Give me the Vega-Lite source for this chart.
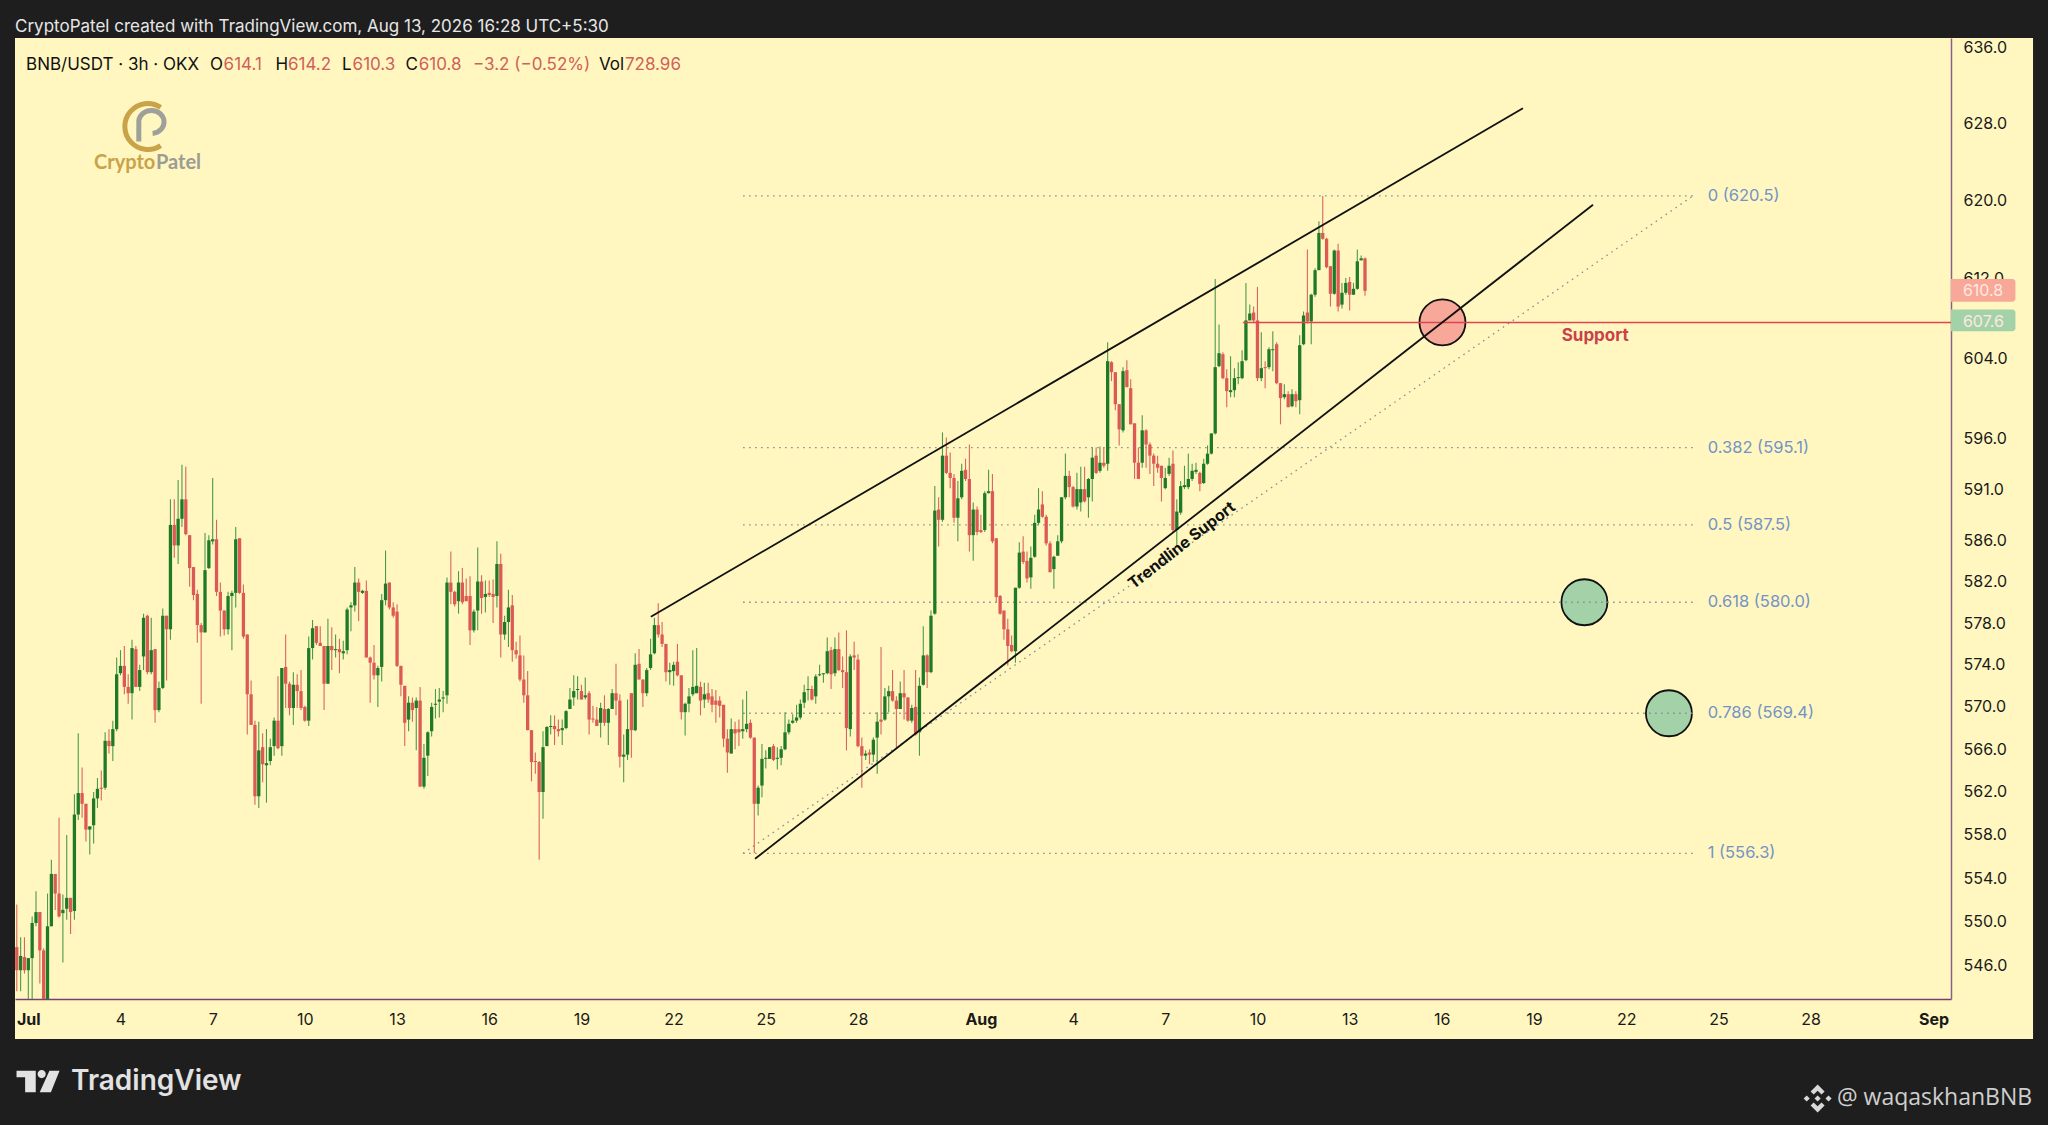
{"$schema":"https://vega.github.io/schema/vega-lite/v6.json","width":1936,"height":961,"autosize":{"type":"none"},"padding":{"left":15,"top":38,"right":97,"bottom":126},"background":"#fff7bf","config":{"view":{"stroke":null}},
"datasets":{"candles":[
{"t":"2026-06-30T12:00Z","o":550,"h":550,"l":543,"c":545.1},{"t":"2026-06-30T15:00Z","o":547.7,"h":551.6,"l":543.7,"c":545.6},{"t":"2026-06-30T18:00Z","o":545.6,"h":548.6,"l":543.7,"c":546.9},{"t":"2026-06-30T21:00Z","o":546.8,"h":548.6,"l":545.3,"c":545.6},
{"t":"2026-07-01T00:00Z","o":545.6,"h":546.7,"l":543,"c":546.7},{"t":"2026-07-01T03:00Z","o":546.7,"h":550.5,"l":543,"c":549.9},{"t":"2026-07-01T06:00Z","o":549.9,"h":552.8,"l":549.6,"c":550.9},{"t":"2026-07-01T09:00Z","o":550.9,"h":550.9,"l":544.4,"c":547.4},{"t":"2026-07-01T12:00Z","o":547.4,"h":547.6,"l":541.6,"c":542.7},{"t":"2026-07-01T15:00Z","o":542.7,"h":552.6,"l":542,"c":549.6},{"t":"2026-07-01T18:00Z","o":549.6,"h":555.7,"l":549.6,"c":554.4},{"t":"2026-07-01T21:00Z","o":554.4,"h":554.4,"l":551.1,"c":552.6},
{"t":"2026-07-02T00:00Z","o":552.6,"h":559.6,"l":550.4,"c":550.5},{"t":"2026-07-02T03:00Z","o":550.8,"h":552.5,"l":546.3,"c":551.1},{"t":"2026-07-02T06:00Z","o":551.2,"h":558,"l":550.2,"c":552.2},{"t":"2026-07-02T09:00Z","o":552.2,"h":552.2,"l":548.9,"c":550.9},{"t":"2026-07-02T12:00Z","o":551,"h":561.8,"l":550.2,"c":559.9},{"t":"2026-07-02T15:00Z","o":559.9,"h":567.5,"l":559.4,"c":561.9},{"t":"2026-07-02T18:00Z","o":561.9,"h":564.3,"l":559.6,"c":560.9},{"t":"2026-07-02T21:00Z","o":560.9,"h":560.9,"l":557.4,"c":558.5},
{"t":"2026-07-03T00:00Z","o":558.5,"h":558.8,"l":556.2,"c":558.8},{"t":"2026-07-03T03:00Z","o":558.9,"h":562,"l":557.2,"c":561.4},{"t":"2026-07-03T06:00Z","o":561.4,"h":563.3,"l":560.5,"c":562.3},{"t":"2026-07-03T09:00Z","o":562.4,"h":564,"l":561.2,"c":562.3},{"t":"2026-07-03T12:00Z","o":562.4,"h":567.6,"l":562.2,"c":566.8},{"t":"2026-07-03T15:00Z","o":566.8,"h":567.9,"l":565.6,"c":566.3},{"t":"2026-07-03T18:00Z","o":566.3,"h":568.7,"l":564.9,"c":567.9},{"t":"2026-07-03T21:00Z","o":567.9,"h":574.7,"l":567.7,"c":573.1},
{"t":"2026-07-04T00:00Z","o":573.2,"h":575.4,"l":573,"c":573.9},{"t":"2026-07-04T03:00Z","o":573.9,"h":575.8,"l":571.2,"c":571.9},{"t":"2026-07-04T06:00Z","o":571.9,"h":573.1,"l":570.3,"c":571.3},{"t":"2026-07-04T09:00Z","o":571.3,"h":576.4,"l":568.8,"c":575.6},{"t":"2026-07-04T12:00Z","o":575.5,"h":575.8,"l":571.9,"c":571.9},{"t":"2026-07-04T15:00Z","o":571.9,"h":574,"l":571.5,"c":573.5},{"t":"2026-07-04T18:00Z","o":574.8,"h":578.9,"l":573.5,"c":578.5},{"t":"2026-07-04T21:00Z","o":578.7,"h":578.8,"l":573.1,"c":573.3},
{"t":"2026-07-05T00:00Z","o":573.3,"h":578.5,"l":573.1,"c":575.4},{"t":"2026-07-05T03:00Z","o":575.5,"h":575.5,"l":568.5,"c":569.7},{"t":"2026-07-05T06:00Z","o":569.7,"h":572.4,"l":569.5,"c":571.8},{"t":"2026-07-05T09:00Z","o":571.8,"h":579.4,"l":571.7,"c":578.7},{"t":"2026-07-05T12:00Z","o":578.7,"h":578.7,"l":572.5,"c":577.4},{"t":"2026-07-05T15:00Z","o":577.4,"h":590,"l":576.4,"c":587.5},{"t":"2026-07-05T18:00Z","o":587.5,"h":590,"l":584.3,"c":585.5},{"t":"2026-07-05T21:00Z","o":585.5,"h":591.9,"l":583.7,"c":588.1},
{"t":"2026-07-06T00:00Z","o":588.1,"h":593.4,"l":587.3,"c":590},{"t":"2026-07-06T03:00Z","o":590,"h":593.2,"l":586.5,"c":586.6},{"t":"2026-07-06T06:00Z","o":586.5,"h":586.5,"l":581.5,"c":583.3},{"t":"2026-07-06T09:00Z","o":583.4,"h":583.4,"l":580.2,"c":580.7},{"t":"2026-07-06T12:00Z","o":580.8,"h":581.2,"l":576.1,"c":577.8},{"t":"2026-07-06T15:00Z","o":577.8,"h":578,"l":570.3,"c":577.1},{"t":"2026-07-06T18:00Z","o":577.1,"h":586.7,"l":577.1,"c":583.1},{"t":"2026-07-06T21:00Z","o":583.3,"h":586.5,"l":583.2,"c":586},
{"t":"2026-07-07T00:00Z","o":585.9,"h":592.1,"l":585.6,"c":586.1},{"t":"2026-07-07T03:00Z","o":586.1,"h":588,"l":580.6,"c":581},{"t":"2026-07-07T06:00Z","o":581,"h":581.9,"l":576.7,"c":579.2},{"t":"2026-07-07T09:00Z","o":579.2,"h":579.2,"l":576.8,"c":577.4},{"t":"2026-07-07T12:00Z","o":577.4,"h":581,"l":576.9,"c":580.6},{"t":"2026-07-07T15:00Z","o":580.6,"h":581.1,"l":575.4,"c":580.9},{"t":"2026-07-07T18:00Z","o":580.9,"h":587.3,"l":579.5,"c":586.1},{"t":"2026-07-07T21:00Z","o":586.2,"h":586.2,"l":580.8,"c":580.9},
{"t":"2026-07-08T00:00Z","o":580.9,"h":581.7,"l":576.5,"c":576.7},{"t":"2026-07-08T03:00Z","o":576.9,"h":576.9,"l":567.4,"c":571.2},{"t":"2026-07-08T06:00Z","o":571.2,"h":572.5,"l":568.3,"c":568.3},{"t":"2026-07-08T09:00Z","o":568.3,"h":568.7,"l":560.8,"c":561.6},{"t":"2026-07-08T12:00Z","o":561.6,"h":568.6,"l":560.5,"c":565.9},{"t":"2026-07-08T15:00Z","o":566.2,"h":567.5,"l":562.9,"c":564.6},{"t":"2026-07-08T18:00Z","o":564.5,"h":567.9,"l":561,"c":564.7},{"t":"2026-07-08T21:00Z","o":564.9,"h":567,"l":564.5,"c":566.2},
{"t":"2026-07-09T00:00Z","o":566.3,"h":569,"l":565.4,"c":568.7},{"t":"2026-07-09T03:00Z","o":568.7,"h":572.9,"l":566,"c":566.1},{"t":"2026-07-09T06:00Z","o":566.3,"h":573.7,"l":565.4,"c":573.7},{"t":"2026-07-09T09:00Z","o":573.8,"h":576.9,"l":569.9,"c":572.2},{"t":"2026-07-09T12:00Z","o":572.2,"h":572.4,"l":569.2,"c":569.9},{"t":"2026-07-09T15:00Z","o":569.9,"h":573.3,"l":568.3,"c":572.1},{"t":"2026-07-09T18:00Z","o":572.1,"h":573.1,"l":569.9,"c":571.5},{"t":"2026-07-09T21:00Z","o":571.5,"h":573.5,"l":569.7,"c":569.9},
{"t":"2026-07-10T00:00Z","o":570,"h":570.1,"l":568.6,"c":568.7},{"t":"2026-07-10T03:00Z","o":568.7,"h":576.7,"l":568.2,"c":575.6},{"t":"2026-07-10T06:00Z","o":575.6,"h":578.3,"l":574.5,"c":577.5},{"t":"2026-07-10T09:00Z","o":577.7,"h":577.7,"l":575.9,"c":576.1},{"t":"2026-07-10T12:00Z","o":576.1,"h":577.7,"l":575.8,"c":575.8},{"t":"2026-07-10T15:00Z","o":575.8,"h":575.8,"l":569.7,"c":572.2},{"t":"2026-07-10T18:00Z","o":572.2,"h":578.4,"l":572.2,"c":575.8},{"t":"2026-07-10T21:00Z","o":575.8,"h":577.6,"l":573.5,"c":575.4},
{"t":"2026-07-11T00:00Z","o":575.4,"h":576.9,"l":574.7,"c":575.5},{"t":"2026-07-11T03:00Z","o":575.5,"h":576.5,"l":573.2,"c":575.2},{"t":"2026-07-11T06:00Z","o":575.1,"h":576.3,"l":574.5,"c":575.3},{"t":"2026-07-11T09:00Z","o":575.4,"h":579.5,"l":575,"c":579.3},{"t":"2026-07-11T12:00Z","o":579.5,"h":580,"l":577.2,"c":579.7},{"t":"2026-07-11T15:00Z","o":579.7,"h":583.4,"l":579.1,"c":581.9},{"t":"2026-07-11T18:00Z","o":581.9,"h":582.3,"l":578.2,"c":581},{"t":"2026-07-11T21:00Z","o":580.9,"h":581.2,"l":580.8,"c":581.1},
{"t":"2026-07-12T00:00Z","o":581.1,"h":582.1,"l":574.7,"c":574.7},{"t":"2026-07-12T03:00Z","o":574.7,"h":574.8,"l":570.4,"c":574.2},{"t":"2026-07-12T06:00Z","o":574.2,"h":575.9,"l":572.6,"c":573},{"t":"2026-07-12T09:00Z","o":573,"h":573.9,"l":570,"c":573.7},{"t":"2026-07-12T12:00Z","o":573.8,"h":580.8,"l":572.4,"c":580.2},{"t":"2026-07-12T15:00Z","o":580.2,"h":585,"l":579.7,"c":581.8},{"t":"2026-07-12T18:00Z","o":581.9,"h":581.9,"l":579.3,"c":579.5},{"t":"2026-07-12T21:00Z","o":579.5,"h":580,"l":578.5,"c":578.7},
{"t":"2026-07-13T00:00Z","o":579.1,"h":579.8,"l":573.8,"c":573.9},{"t":"2026-07-13T03:00Z","o":573.9,"h":573.9,"l":571,"c":572.1},{"t":"2026-07-13T06:00Z","o":572,"h":572,"l":566.3,"c":568.5},{"t":"2026-07-13T09:00Z","o":568.8,"h":571,"l":567.7,"c":570.4},{"t":"2026-07-13T12:00Z","o":570.4,"h":570.9,"l":568.6,"c":569.7},{"t":"2026-07-13T15:00Z","o":569.9,"h":570.9,"l":565.9,"c":570.6},{"t":"2026-07-13T18:00Z","o":570.6,"h":571.9,"l":562.5,"c":562.5},{"t":"2026-07-13T21:00Z","o":562.5,"h":566.5,"l":562.3,"c":565.2},
{"t":"2026-07-14T00:00Z","o":565.4,"h":567.7,"l":563.5,"c":567.6},{"t":"2026-07-14T03:00Z","o":567.7,"h":570.4,"l":567.2,"c":570},{"t":"2026-07-14T06:00Z","o":570.2,"h":571.7,"l":568.9,"c":570.3},{"t":"2026-07-14T09:00Z","o":570.5,"h":571.8,"l":569,"c":570.7},{"t":"2026-07-14T12:00Z","o":570.8,"h":571.5,"l":569.5,"c":570.9},{"t":"2026-07-14T15:00Z","o":571.1,"h":582.4,"l":570.3,"c":581.9},{"t":"2026-07-14T18:00Z","o":581.9,"h":584.9,"l":579.8,"c":581},{"t":"2026-07-14T21:00Z","o":581,"h":581.1,"l":579.6,"c":579.8},
{"t":"2026-07-15T00:00Z","o":580.1,"h":583,"l":578.9,"c":581.9},{"t":"2026-07-15T03:00Z","o":581.9,"h":583.3,"l":579.8,"c":580},{"t":"2026-07-15T06:00Z","o":580.6,"h":582.3,"l":580.1,"c":580.1},{"t":"2026-07-15T09:00Z","o":580.6,"h":582.5,"l":575.9,"c":577.3},{"t":"2026-07-15T12:00Z","o":577.3,"h":579.3,"l":577.1,"c":579.1},{"t":"2026-07-15T15:00Z","o":579.2,"h":585.3,"l":577.3,"c":582},{"t":"2026-07-15T18:00Z","o":582,"h":582.6,"l":578.9,"c":580.4},{"t":"2026-07-15T21:00Z","o":580.5,"h":582.1,"l":579,"c":580.8},
{"t":"2026-07-16T00:00Z","o":580.9,"h":582.1,"l":580.5,"c":580.7},{"t":"2026-07-16T03:00Z","o":580.8,"h":582.2,"l":578,"c":580.5},{"t":"2026-07-16T06:00Z","o":580.6,"h":585.9,"l":579.5,"c":583.7},{"t":"2026-07-16T09:00Z","o":583.7,"h":584.7,"l":574.7,"c":576.9},{"t":"2026-07-16T12:00Z","o":576.9,"h":578.7,"l":576.4,"c":578.1},{"t":"2026-07-16T15:00Z","o":578.1,"h":581.2,"l":575.7,"c":579.5},{"t":"2026-07-16T18:00Z","o":579.7,"h":580.7,"l":574.3,"c":575.4},{"t":"2026-07-16T21:00Z","o":575.4,"h":576.2,"l":574.6,"c":575},
{"t":"2026-07-17T00:00Z","o":574.9,"h":576.8,"l":572.4,"c":572.6},{"t":"2026-07-17T03:00Z","o":572.6,"h":574.9,"l":570.4,"c":571.1},{"t":"2026-07-17T06:00Z","o":571.1,"h":573.4,"l":567.8,"c":567.8},{"t":"2026-07-17T09:00Z","o":567.8,"h":567.8,"l":563,"c":564.8},{"t":"2026-07-17T12:00Z","o":564.9,"h":565.7,"l":563.7,"c":564.8},{"t":"2026-07-17T15:00Z","o":564.8,"h":564.9,"l":555.7,"c":562},{"t":"2026-07-17T18:00Z","o":562,"h":567.7,"l":559.5,"c":566.2},{"t":"2026-07-17T21:00Z","o":566.3,"h":568.2,"l":566.3,"c":568.1},
{"t":"2026-07-18T00:00Z","o":568.1,"h":569.2,"l":567.4,"c":568.2},{"t":"2026-07-18T03:00Z","o":568.2,"h":569.2,"l":566.4,"c":567.9},{"t":"2026-07-18T06:00Z","o":567.9,"h":568.8,"l":567.2,"c":567.7},{"t":"2026-07-18T09:00Z","o":567.8,"h":568.8,"l":566.4,"c":568},{"t":"2026-07-18T12:00Z","o":568,"h":569.7,"l":567.9,"c":569.6},{"t":"2026-07-18T15:00Z","o":569.8,"h":571.8,"l":569.8,"c":570.7},{"t":"2026-07-18T18:00Z","o":570.9,"h":573,"l":570.1,"c":571.5},{"t":"2026-07-18T21:00Z","o":571.6,"h":572.9,"l":570.7,"c":571.7},
{"t":"2026-07-19T00:00Z","o":571.5,"h":572.1,"l":570.7,"c":570.7},{"t":"2026-07-19T03:00Z","o":570.9,"h":572.8,"l":570.7,"c":571.1},{"t":"2026-07-19T06:00Z","o":571.3,"h":571.5,"l":567.4,"c":568.8},{"t":"2026-07-19T09:00Z","o":568.9,"h":570.1,"l":568.5,"c":568.8},{"t":"2026-07-19T12:00Z","o":568.8,"h":570,"l":568.2,"c":568.2},{"t":"2026-07-19T15:00Z","o":568.5,"h":570.4,"l":567.1,"c":569.9},{"t":"2026-07-19T18:00Z","o":569.8,"h":571.1,"l":568.2,"c":568.5},{"t":"2026-07-19T21:00Z","o":568.5,"h":569.9,"l":566.4,"c":569.8},
{"t":"2026-07-20T00:00Z","o":569.8,"h":571.7,"l":569.8,"c":571.3},{"t":"2026-07-20T03:00Z","o":571.3,"h":574.1,"l":569.2,"c":570.6},{"t":"2026-07-20T06:00Z","o":570.6,"h":571.2,"l":564.3,"c":565.3},{"t":"2026-07-20T09:00Z","o":565.3,"h":567.4,"l":562.9,"c":565.5},{"t":"2026-07-20T12:00Z","o":565.5,"h":570.7,"l":565,"c":567.9},{"t":"2026-07-20T15:00Z","o":571.3,"h":571.3,"l":565.2,"c":567.8},{"t":"2026-07-20T18:00Z","o":567.8,"h":575.1,"l":567.7,"c":574},{"t":"2026-07-20T21:00Z","o":574.1,"h":575.5,"l":572.6,"c":572.6},
{"t":"2026-07-21T00:00Z","o":572.6,"h":572.6,"l":570,"c":571.3},{"t":"2026-07-21T03:00Z","o":571.3,"h":573.7,"l":571,"c":573.5},{"t":"2026-07-21T06:00Z","o":573.7,"h":576.5,"l":573.5,"c":575},{"t":"2026-07-21T09:00Z","o":575.1,"h":578.5,"l":575,"c":577.8},{"t":"2026-07-21T12:00Z","o":577.8,"h":579.9,"l":576.6,"c":576.9},{"t":"2026-07-21T15:00Z","o":576.9,"h":578.1,"l":575.7,"c":576},{"t":"2026-07-21T18:00Z","o":576,"h":576,"l":572.4,"c":573.3},{"t":"2026-07-21T21:00Z","o":573.3,"h":574.2,"l":572.1,"c":573.5},
{"t":"2026-07-22T00:00Z","o":573.4,"h":574.3,"l":572,"c":574},{"t":"2026-07-22T03:00Z","o":574.3,"h":576,"l":572.9,"c":573},{"t":"2026-07-22T06:00Z","o":573,"h":573,"l":568.8,"c":569.5},{"t":"2026-07-22T09:00Z","o":569.5,"h":570.4,"l":567.3,"c":570.3},{"t":"2026-07-22T12:00Z","o":570.3,"h":571.8,"l":569.5,"c":571},{"t":"2026-07-22T15:00Z","o":571.2,"h":575.4,"l":571,"c":571.9},{"t":"2026-07-22T18:00Z","o":571.3,"h":575.6,"l":571.3,"c":572},{"t":"2026-07-22T21:00Z","o":571.9,"h":572.4,"l":569.2,"c":570.6},
{"t":"2026-07-23T00:00Z","o":570.7,"h":572.3,"l":569.9,"c":571.2},{"t":"2026-07-23T03:00Z","o":571.3,"h":572.3,"l":570.4,"c":570.7},{"t":"2026-07-23T06:00Z","o":571,"h":571.7,"l":569.5,"c":570.2},{"t":"2026-07-23T09:00Z","o":570.6,"h":571.6,"l":568.5,"c":570.2},{"t":"2026-07-23T12:00Z","o":570.6,"h":571,"l":569,"c":570.1},{"t":"2026-07-23T15:00Z","o":570.2,"h":570.2,"l":566.2,"c":567},{"t":"2026-07-23T18:00Z","o":567,"h":567.9,"l":563.8,"c":565.7},{"t":"2026-07-23T21:00Z","o":565.6,"h":568.9,"l":565.6,"c":567.9},
{"t":"2026-07-24T00:00Z","o":567.9,"h":568.6,"l":566,"c":567.5},{"t":"2026-07-24T03:00Z","o":567.9,"h":568.8,"l":566.3,"c":567.6},{"t":"2026-07-24T06:00Z","o":567.7,"h":570.7,"l":567,"c":567.9},{"t":"2026-07-24T09:00Z","o":567.9,"h":571.5,"l":567.6,"c":568.4},{"t":"2026-07-24T12:00Z","o":568.5,"h":568.8,"l":567,"c":567.1},{"t":"2026-07-24T15:00Z","o":567.1,"h":567.1,"l":556.3,"c":560.9},{"t":"2026-07-24T18:00Z","o":560.9,"h":562.6,"l":559.8,"c":562.4},{"t":"2026-07-24T21:00Z","o":562.6,"h":566.5,"l":561.5,"c":565.1},
{"t":"2026-07-25T00:00Z","o":565.1,"h":565.9,"l":564.2,"c":565.2},{"t":"2026-07-25T03:00Z","o":565.1,"h":566.2,"l":565.1,"c":566.2},{"t":"2026-07-25T06:00Z","o":566.3,"h":566.5,"l":564.9,"c":565},{"t":"2026-07-25T09:00Z","o":565.1,"h":566.2,"l":564.1,"c":565.2},{"t":"2026-07-25T12:00Z","o":565.2,"h":566.3,"l":564.5,"c":566},{"t":"2026-07-25T15:00Z","o":566,"h":569.5,"l":565.9,"c":567.6},{"t":"2026-07-25T18:00Z","o":567.6,"h":568.8,"l":567.4,"c":568.4},{"t":"2026-07-25T21:00Z","o":568.5,"h":569.3,"l":568.4,"c":568.7},
{"t":"2026-07-26T00:00Z","o":568.7,"h":570.2,"l":568.5,"c":569},{"t":"2026-07-26T03:00Z","o":569,"h":570.7,"l":568.8,"c":570.3},{"t":"2026-07-26T06:00Z","o":570.4,"h":572.1,"l":569.9,"c":571.4},{"t":"2026-07-26T09:00Z","o":571.6,"h":572.9,"l":570.6,"c":571.7},{"t":"2026-07-26T12:00Z","o":571.7,"h":572,"l":570.6,"c":570.7},{"t":"2026-07-26T15:00Z","o":571,"h":573.1,"l":570.3,"c":572.9},{"t":"2026-07-26T18:00Z","o":573,"h":574,"l":572.9,"c":573.1},{"t":"2026-07-26T21:00Z","o":573.1,"h":573.2,"l":572.3,"c":573.2},
{"t":"2026-07-27T00:00Z","o":573.2,"h":576.6,"l":573.1,"c":575.3},{"t":"2026-07-27T03:00Z","o":575.4,"h":575.7,"l":571.7,"c":573.1},{"t":"2026-07-27T06:00Z","o":573.2,"h":576.6,"l":572.9,"c":575.5},{"t":"2026-07-27T09:00Z","o":575.5,"h":577.1,"l":573.4,"c":573.5},{"t":"2026-07-27T12:00Z","o":573.5,"h":574.8,"l":571.8,"c":573.3},{"t":"2026-07-27T15:00Z","o":573.3,"h":577.3,"l":565.9,"c":568},{"t":"2026-07-27T18:00Z","o":567.9,"h":575,"l":567.2,"c":574.8},{"t":"2026-07-27T21:00Z","o":574.9,"h":576.2,"l":573.5,"c":574.7},
{"t":"2026-07-28T00:00Z","o":574.5,"h":575,"l":566.2,"c":566.3},{"t":"2026-07-28T03:00Z","o":566.3,"h":567.1,"l":562.4,"c":565.4},{"t":"2026-07-28T06:00Z","o":565.4,"h":565.9,"l":565,"c":565.6},{"t":"2026-07-28T09:00Z","o":565.7,"h":566,"l":564.6,"c":565.5},{"t":"2026-07-28T12:00Z","o":565.5,"h":567.1,"l":564.8,"c":566.9},{"t":"2026-07-28T15:00Z","o":567.1,"h":569.5,"l":563.7,"c":568.6},{"t":"2026-07-28T18:00Z","o":568.8,"h":575.7,"l":567.4,"c":568.6},{"t":"2026-07-28T21:00Z","o":568.8,"h":571.8,"l":568.7,"c":571},
{"t":"2026-07-29T00:00Z","o":571,"h":572,"l":569.5,"c":571.5},{"t":"2026-07-29T03:00Z","o":571.5,"h":573.5,"l":570.5,"c":570.6},{"t":"2026-07-29T06:00Z","o":570.6,"h":571,"l":566.2,"c":569.8},{"t":"2026-07-29T09:00Z","o":569.8,"h":572.4,"l":569.8,"c":571.3},{"t":"2026-07-29T12:00Z","o":571.3,"h":573.5,"l":568.8,"c":570.9},{"t":"2026-07-29T15:00Z","o":570.9,"h":570.9,"l":568.6,"c":568.7},{"t":"2026-07-29T18:00Z","o":568.7,"h":570.2,"l":568.5,"c":569.9},{"t":"2026-07-29T21:00Z","o":570,"h":573.5,"l":567.3,"c":567.4},
{"t":"2026-07-30T00:00Z","o":567.6,"h":572.8,"l":565.4,"c":572},{"t":"2026-07-30T03:00Z","o":572.1,"h":577.7,"l":572,"c":574.9},{"t":"2026-07-30T06:00Z","o":574.9,"h":575,"l":571.8,"c":573.3},{"t":"2026-07-30T09:00Z","o":573.3,"h":579.2,"l":573.2,"c":578.7},{"t":"2026-07-30T12:00Z","o":578.9,"h":591.3,"l":578.8,"c":588.9},{"t":"2026-07-30T15:00Z","o":589,"h":590.2,"l":585.4,"c":588},{"t":"2026-07-30T18:00Z","o":588,"h":596.6,"l":587.8,"c":594.3},{"t":"2026-07-30T21:00Z","o":594.3,"h":596.1,"l":592.5,"c":592.6},
{"t":"2026-07-31T00:00Z","o":592.6,"h":594.6,"l":591.1,"c":592.1},{"t":"2026-07-31T03:00Z","o":592.1,"h":592.5,"l":587.7,"c":588.2},{"t":"2026-07-31T06:00Z","o":588.2,"h":591.8,"l":585.9,"c":590.1},{"t":"2026-07-31T09:00Z","o":590.2,"h":593.5,"l":590,"c":592.8},{"t":"2026-07-31T12:00Z","o":592.9,"h":594,"l":591.8,"c":592},{"t":"2026-07-31T15:00Z","o":592,"h":595.4,"l":584.9,"c":586.5},{"t":"2026-07-31T18:00Z","o":586.5,"h":589.7,"l":584,"c":589},{"t":"2026-07-31T21:00Z","o":589,"h":589.3,"l":586.5,"c":586.8},
{"t":"2026-08-01T00:00Z","o":587,"h":588.5,"l":586.7,"c":586.8},{"t":"2026-08-01T03:00Z","o":587,"h":590.8,"l":586.8,"c":590.6},{"t":"2026-08-01T06:00Z","o":590.6,"h":592.9,"l":590.6,"c":590.8},{"t":"2026-08-01T09:00Z","o":590.8,"h":592.5,"l":585.7,"c":585.9},{"t":"2026-08-01T12:00Z","o":586.2,"h":586.2,"l":580,"c":580.5},{"t":"2026-08-01T15:00Z","o":580.6,"h":580.7,"l":578.8,"c":578.9},{"t":"2026-08-01T18:00Z","o":579.2,"h":579.2,"l":576.4,"c":577.4},{"t":"2026-08-01T21:00Z","o":577.4,"h":578.4,"l":573.9,"c":575.8},
{"t":"2026-08-02T00:00Z","o":575.9,"h":576.8,"l":575.2,"c":575.3},{"t":"2026-08-02T03:00Z","o":575.3,"h":581.4,"l":574.2,"c":581.4},{"t":"2026-08-02T06:00Z","o":581.4,"h":585.8,"l":581.3,"c":584.8},{"t":"2026-08-02T09:00Z","o":584.9,"h":586.4,"l":583.7,"c":583.9},{"t":"2026-08-02T12:00Z","o":584,"h":584.9,"l":581.9,"c":582.3},{"t":"2026-08-02T15:00Z","o":582.4,"h":585.4,"l":581.3,"c":584.3},{"t":"2026-08-02T18:00Z","o":584.4,"h":588.5,"l":584.3,"c":587.7},{"t":"2026-08-02T21:00Z","o":587.7,"h":591.1,"l":587.5,"c":589},
{"t":"2026-08-03T00:00Z","o":589.5,"h":590.8,"l":588.2,"c":588.3},{"t":"2026-08-03T03:00Z","o":588.3,"h":588.5,"l":585.5,"c":585.7},{"t":"2026-08-03T06:00Z","o":585.7,"h":585.9,"l":582.9,"c":582.9},{"t":"2026-08-03T09:00Z","o":583.2,"h":584.5,"l":581.3,"c":584.4},{"t":"2026-08-03T12:00Z","o":584.5,"h":586.5,"l":584.5,"c":585.9},{"t":"2026-08-03T15:00Z","o":585.9,"h":590.2,"l":585.7,"c":590.2},{"t":"2026-08-03T18:00Z","o":590.2,"h":594.5,"l":590,"c":592.3},{"t":"2026-08-03T21:00Z","o":592.3,"h":592.8,"l":590.2,"c":591.2},
{"t":"2026-08-04T00:00Z","o":591.2,"h":591.3,"l":589.2,"c":589.3},{"t":"2026-08-04T03:00Z","o":589.3,"h":592.6,"l":589,"c":591},{"t":"2026-08-04T06:00Z","o":589.7,"h":593.2,"l":588.8,"c":591},{"t":"2026-08-04T09:00Z","o":591,"h":593.2,"l":589.7,"c":589.8},{"t":"2026-08-04T12:00Z","o":590.2,"h":592.1,"l":588.2,"c":592},{"t":"2026-08-04T15:00Z","o":592,"h":595.1,"l":589.8,"c":594.1},{"t":"2026-08-04T18:00Z","o":594.3,"h":595.1,"l":592.5,"c":592.6},{"t":"2026-08-04T21:00Z","o":592.8,"h":595.2,"l":592.6,"c":593.6},
{"t":"2026-08-05T00:00Z","o":593.6,"h":595.1,"l":593.1,"c":593.3},{"t":"2026-08-05T03:00Z","o":593.5,"h":605.6,"l":592.8,"c":603.7},{"t":"2026-08-05T06:00Z","o":603.6,"h":603.7,"l":601.7,"c":602.6},{"t":"2026-08-05T09:00Z","o":602.6,"h":602.6,"l":598.8,"c":599.4},{"t":"2026-08-05T12:00Z","o":599.4,"h":599.4,"l":595.3,"c":596.9},{"t":"2026-08-05T15:00Z","o":596.8,"h":603.1,"l":596.6,"c":602.7},{"t":"2026-08-05T18:00Z","o":602.8,"h":603.8,"l":601.1,"c":601.1},{"t":"2026-08-05T21:00Z","o":601,"h":601.9,"l":597.4,"c":597.4},
{"t":"2026-08-06T00:00Z","o":597.5,"h":597.5,"l":592,"c":593.6},{"t":"2026-08-06T03:00Z","o":593.6,"h":595.1,"l":592,"c":592},{"t":"2026-08-06T06:00Z","o":593.6,"h":598.3,"l":593.1,"c":596.8},{"t":"2026-08-06T09:00Z","o":596.8,"h":596.9,"l":593.1,"c":595.4},{"t":"2026-08-06T12:00Z","o":595.4,"h":595.6,"l":592.5,"c":594.3},{"t":"2026-08-06T15:00Z","o":594.3,"h":594.5,"l":591.3,"c":593.5},{"t":"2026-08-06T18:00Z","o":593.5,"h":594.3,"l":592.6,"c":593.1},{"t":"2026-08-06T21:00Z","o":593.3,"h":593.3,"l":589.8,"c":592.1},
{"t":"2026-08-07T00:00Z","o":591.1,"h":593.1,"l":591,"c":592.1},{"t":"2026-08-07T03:00Z","o":592.5,"h":594.1,"l":592.3,"c":593.3},{"t":"2026-08-07T06:00Z","o":593.5,"h":594.8,"l":586.7,"c":587},{"t":"2026-08-07T09:00Z","o":587,"h":590,"l":585.4,"c":588.8},{"t":"2026-08-07T12:00Z","o":588.7,"h":591.8,"l":588.5,"c":591.3},{"t":"2026-08-07T15:00Z","o":591.2,"h":593.3,"l":591,"c":591.4},{"t":"2026-08-07T18:00Z","o":591.2,"h":594.5,"l":591,"c":592},{"t":"2026-08-07T21:00Z","o":592,"h":593.5,"l":591.8,"c":592.8},
{"t":"2026-08-08T00:00Z","o":592.7,"h":593.6,"l":592.5,"c":592.9},{"t":"2026-08-08T03:00Z","o":592.6,"h":592.7,"l":590.8,"c":591.5},{"t":"2026-08-08T06:00Z","o":591.6,"h":594,"l":591.5,"c":593.5},{"t":"2026-08-08T09:00Z","o":593.5,"h":595.3,"l":593.4,"c":594.5},{"t":"2026-08-08T12:00Z","o":594.5,"h":596.5,"l":594.4,"c":596.5},{"t":"2026-08-08T15:00Z","o":596.5,"h":612,"l":596.4,"c":603.1},{"t":"2026-08-08T18:00Z","o":603.2,"h":607.4,"l":603.1,"c":604.5},{"t":"2026-08-08T21:00Z","o":604.4,"h":604.6,"l":601.9,"c":602},
{"t":"2026-08-09T00:00Z","o":602,"h":602.9,"l":599.1,"c":600.7},{"t":"2026-08-09T03:00Z","o":600.6,"h":604.2,"l":600.1,"c":600.8},{"t":"2026-08-09T06:00Z","o":600.8,"h":603,"l":600.1,"c":602},{"t":"2026-08-09T09:00Z","o":602,"h":603.6,"l":601.4,"c":602.1},{"t":"2026-08-09T12:00Z","o":602,"h":604.8,"l":601.9,"c":603.7},{"t":"2026-08-09T15:00Z","o":603.8,"h":611.6,"l":603.7,"c":607.8},{"t":"2026-08-09T18:00Z","o":607.8,"h":609.4,"l":607.8,"c":608.5},{"t":"2026-08-09T21:00Z","o":608.6,"h":609.2,"l":607.6,"c":607.8},
{"t":"2026-08-10T00:00Z","o":607.8,"h":611.2,"l":601.7,"c":602},{"t":"2026-08-10T03:00Z","o":602,"h":606.6,"l":601.7,"c":603},{"t":"2026-08-10T06:00Z","o":603.1,"h":603.7,"l":601,"c":603},{"t":"2026-08-10T09:00Z","o":603.1,"h":605.1,"l":602.9,"c":604.9},{"t":"2026-08-10T12:00Z","o":604.8,"h":606.7,"l":602.7,"c":604.9},{"t":"2026-08-10T15:00Z","o":605.4,"h":605.6,"l":601.4,"c":601.5},{"t":"2026-08-10T18:00Z","o":601.5,"h":601.5,"l":597.4,"c":600},{"t":"2026-08-10T21:00Z","o":600.1,"h":601.4,"l":599.9,"c":600.4},
{"t":"2026-08-11T00:00Z","o":600.4,"h":600.7,"l":599.1,"c":599.1},{"t":"2026-08-11T03:00Z","o":599.2,"h":600.9,"l":599.1,"c":600.4},{"t":"2026-08-11T06:00Z","o":600.4,"h":600.7,"l":599.1,"c":599.7},{"t":"2026-08-11T09:00Z","o":599.8,"h":606.3,"l":598.4,"c":605.3},{"t":"2026-08-11T12:00Z","o":605.4,"h":608.7,"l":605.3,"c":608.3},{"t":"2026-08-11T15:00Z","o":608.6,"h":615,"l":607.5,"c":607.7},{"t":"2026-08-11T18:00Z","o":607.7,"h":610.5,"l":605.4,"c":610.4},{"t":"2026-08-11T21:00Z","o":610.4,"h":613.1,"l":610.2,"c":612.9},
{"t":"2026-08-12T00:00Z","o":612.9,"h":617.9,"l":612.9,"c":616.7},{"t":"2026-08-12T03:00Z","o":616.7,"h":620.5,"l":616,"c":616.1},{"t":"2026-08-12T06:00Z","o":616.1,"h":616.2,"l":613.1,"c":613.2},{"t":"2026-08-12T09:00Z","o":613.3,"h":613.3,"l":609.2,"c":610.5},{"t":"2026-08-12T12:00Z","o":610.5,"h":615,"l":610.4,"c":614.9},{"t":"2026-08-12T15:00Z","o":614.9,"h":615.6,"l":608.7,"c":609.2},{"t":"2026-08-12T18:00Z","o":609.4,"h":611.6,"l":609,"c":610.6},{"t":"2026-08-12T21:00Z","o":610.6,"h":612.1,"l":610.4,"c":611.6},
{"t":"2026-08-13T00:00Z","o":611.7,"h":612.2,"l":608.8,"c":610.4},{"t":"2026-08-13T03:00Z","o":610.4,"h":611.6,"l":610.4,"c":611},{"t":"2026-08-13T06:00Z","o":611,"h":615,"l":610.9,"c":613.8},{"t":"2026-08-13T09:00Z","o":613.9,"h":614.4,"l":613.9,"c":614.1},{"t":"2026-08-13T12:00Z","o":614.1,"h":614.2,"l":610.3,"c":610.8}
]},
"encoding":{
"x":{"field":"t","type":"temporal","title":null,"scale":{"type":"utc","domain":[{"year":2026,"month":6,"date":30,"hours":13,"minutes":36,"utc":true},{"year":2026,"month":9,"date":1,"hours":13,"minutes":41,"utc":true}]},
"axis":{"grid":false,"ticks":false,"domainColor":"#7a3f72","domainWidth":1.5,"labelColor":"#1a1a1a","labelFont":"Inter","labelFontSize":16,"labelPadding":12,"labelOverlap":false,"labelFlush":false,"labelBound":false,
"labelExpr":"utcdate(datum.value)==1 ? utcFormat(datum.value,'%b') : utcFormat(datum.value,'%-d')","labelFontWeight":{"condition":{"test":"utcdate(datum.value)==1","value":"bold"},"value":"normal"},
"values":[{"year":2026,"month":7,"date":1,"utc":true},{"year":2026,"month":7,"date":4,"utc":true},{"year":2026,"month":7,"date":7,"utc":true},{"year":2026,"month":7,"date":10,"utc":true},{"year":2026,"month":7,"date":13,"utc":true},{"year":2026,"month":7,"date":16,"utc":true},{"year":2026,"month":7,"date":19,"utc":true},{"year":2026,"month":7,"date":22,"utc":true},{"year":2026,"month":7,"date":25,"utc":true},{"year":2026,"month":7,"date":28,"utc":true},{"year":2026,"month":8,"date":1,"utc":true},{"year":2026,"month":8,"date":4,"utc":true},{"year":2026,"month":8,"date":7,"utc":true},{"year":2026,"month":8,"date":10,"utc":true},{"year":2026,"month":8,"date":13,"utc":true},{"year":2026,"month":8,"date":16,"utc":true},{"year":2026,"month":8,"date":19,"utc":true},{"year":2026,"month":8,"date":22,"utc":true},{"year":2026,"month":8,"date":25,"utc":true},{"year":2026,"month":8,"date":28,"utc":true},{"year":2026,"month":9,"date":1,"utc":true}]}},
"y":{"field":"p","type":"quantitative","title":null,"scale":{"type":"log","domain":[543,637],"nice":false,"zero":false},
"axis":{"orient":"right","grid":false,"ticks":false,"domainColor":"#8c5f8a","domainWidth":1.5,"labelColor":"#1a1a1a","labelFont":"Inter","labelFontSize":16,"labelPadding":12,"labelOverlap":false,"labelFlush":false,"labelBound":false,"format":".1f","values":[636,628,620,612,604,596,591,586,582,578,574,570,566,562,558,554,550,546]}}},
"layer":[
{"data":{"values":[
{"t":"2026-06-30T01:00Z","t2":"2026-09-05T00:00Z","p":642,"p2":637},
{"t":"2026-06-30T01:00Z","t2":"2026-09-05T00:00Z","p":539.4,"p2":531},
{"t":"2026-06-30T01:00Z","t2":"2026-06-30T13:36Z","p":642,"p2":531},
{"t":"2026-09-04T05:45Z","t2":"2026-09-05T00:00Z","p":642,"p2":531}]},
"mark":{"type":"rect","color":"#1e1e1e"},"encoding":{"x2":{"field":"t2"},"y2":{"field":"p2"}}},
{"data":{"values":[{"t":"2026-08-16T00:30Z","p":607.6,"kind":"a"},{"t":"2026-08-20T15:22Z","p":580,"kind":"b"},{"t":"2026-08-23T09:22Z","p":569.4,"kind":"b"}]},
"mark":{"type":"point","shape":"circle","filled":true,"opacity":1,"stroke":"#111111","strokeWidth":1.8,"size":2116},
"encoding":{"color":{"field":"kind","type":"nominal","legend":null,"scale":{"domain":["a","b"],"range":["#f8a898","#a4d2a8"]}}}},
{"data":{"values":[{"t":"2026-07-24T06:15Z","t2":"2026-08-24T04:00Z","p":620.5},{"t":"2026-07-24T06:15Z","t2":"2026-08-24T04:00Z","p":595.1},{"t":"2026-07-24T06:15Z","t2":"2026-08-24T04:00Z","p":587.5},{"t":"2026-07-24T06:15Z","t2":"2026-08-24T04:00Z","p":580},{"t":"2026-07-24T06:15Z","t2":"2026-08-24T04:00Z","p":569.4},{"t":"2026-07-24T06:15Z","t2":"2026-08-24T04:00Z","p":556.3}]},
"mark":{"type":"rule","color":"#8a8f96","strokeWidth":1.3,"strokeDash":[1.6,4.4]},"encoding":{"x2":{"field":"t2"}}},
{"data":{"values":[{"t":"2026-07-24T06:15Z","p":556.3},{"t":"2026-08-24T04:00Z","p":620.5}]},
"mark":{"type":"line","color":"#8a8f96","strokeWidth":1.3,"strokeDash":[1.6,4.4]}},
{"data":{"name":"candles"},"mark":{"type":"rule","clip":true,"strokeWidth":1.1},
"encoding":{"y":{"field":"l","type":"quantitative","title":null},"y2":{"field":"h"},"color":{"condition":{"test":"datum.c>=datum.o","value":"#4b9a4b"},"value":"#d9655f"}}},
{"data":{"name":"candles"},"mark":{"type":"rule","clip":true,"strokeWidth":3.3},
"encoding":{"y":{"field":"o","type":"quantitative","title":null},"y2":{"field":"c"},"color":{"condition":{"test":"datum.c>=datum.o","value":"#1f7a28"},"value":"#dc5a55"}}},
{"data":{"values":[{"t":"2026-08-09T12:43Z","t2":"2026-09-01T13:41Z","p":607.6}]},"mark":{"type":"rule","color":"#e0444f","strokeWidth":1.5},"encoding":{"x2":{"field":"t2"}}},
{"data":{"values":[{"t":"2026-07-21T06:14Z","p":578.6},{"t":"2026-08-18T15:22Z","p":629.6}]},"mark":{"type":"line","color":"#111111","strokeWidth":1.8}},
{"data":{"values":[{"t":"2026-07-24T15:36Z","p":555.8},{"t":"2026-08-20T22:05Z","p":619.6}]},"mark":{"type":"line","color":"#111111","strokeWidth":1.8}},
{"data":{"values":[{"t":"2026-09-01T13:41Z","t2":"2026-09-03T16:00Z","p":612,"p2":609.7,"kind":"a"},{"t":"2026-09-01T13:41Z","t2":"2026-09-03T16:00Z","p":608.9,"p2":606.7,"kind":"b"}]},
"mark":{"type":"rect","cornerRadiusTopRight":3,"cornerRadiusBottomRight":3},"encoding":{"x2":{"field":"t2"},"y2":{"field":"p2"},"color":{"field":"kind","type":"nominal","legend":null,"scale":{"domain":["a","b"],"range":["#ee3b36","#e6274f"]}}}},
{"data":{"values":[{"t":"2026-09-01T23:00Z","p":610.8,"label":"610.8"},{"t":"2026-09-01T23:00Z","p":607.6,"label":"607.6"}]},
"mark":{"type":"text","align":"left","baseline":"middle","font":"Inter","fontSize":16,"color":"#ffe9df"},"encoding":{"text":{"field":"label"}}},
{"data":{"values":[{"t":"2026-08-24T15:40Z","p":620.5,"label":"0 (620.5)"},{"t":"2026-08-24T15:40Z","p":595.1,"label":"0.382 (595.1)"},{"t":"2026-08-24T15:40Z","p":587.5,"label":"0.5 (587.5)"},{"t":"2026-08-24T15:40Z","p":580,"label":"0.618 (580.0)"},{"t":"2026-08-24T15:40Z","p":569.4,"label":"0.786 (569.4)"},{"t":"2026-08-24T15:40Z","p":556.3,"label":"1 (556.3)"}]},
"mark":{"type":"text","align":"left","baseline":"middle","font":"Inter","fontSize":16.5,"color":"#7393c8"},"encoding":{"text":{"field":"label"}}},
{"data":{"values":[{"t":"2026-08-19T21:36Z","p":606.2,"label":"Support"}]},"mark":{"type":"text","align":"left","baseline":"middle","font":"Inter","fontWeight":"bold","fontSize":17,"color":"#c9424a"},"encoding":{"text":{"field":"label"}}},
{"data":{"values":[{"t":"2026-08-07T13:00Z","p":585.5,"label":"Trendline Suport"}]},"mark":{"type":"text","align":"center","baseline":"middle","font":"Inter","fontWeight":"bold","fontSize":16,"angle":322,"color":"#111111"},"encoding":{"text":{"field":"label"}}},
{"data":{"values":[{"t":"2026-06-30T13:36Z","p":638.2,"label":"CryptoPatel created with TradingView.com, Aug 13, 2026 16:28 UTC+5:30"}]},"mark":{"type":"text","align":"left","baseline":"middle","font":"Inter","fontSize":17,"color":"#e6e6e6"},"encoding":{"text":{"field":"label"}}},
{"data":{"values":[{"t":"2026-06-30T22:12Z","p":634.2,"label":"BNB/USDT · 3h · OKX"},{"t":"2026-07-06T21:55Z","p":634.2,"label":"O"},{"t":"2026-07-09T01:04Z","p":634.2,"label":"H"},{"t":"2026-07-11T05:00Z","p":634.2,"label":"L"},{"t":"2026-07-13T06:30Z","p":634.2,"label":"C"},{"t":"2026-07-19T13:42Z","p":634.2,"label":"Vol"}]},"mark":{"type":"text","align":"left","baseline":"middle","font":"Inter","fontSize":17,"color":"#111111"},"encoding":{"text":{"field":"label"}}},
{"data":{"values":[{"t":"2026-07-07T08:31Z","p":634.2,"label":"614.1"},{"t":"2026-07-09T10:49Z","p":634.2,"label":"614.2"},{"t":"2026-07-11T13:16Z","p":634.2,"label":"610.3"},{"t":"2026-07-13T16:54Z","p":634.2,"label":"610.8"},{"t":"2026-07-15T11:18Z","p":634.2,"label":"−3.2 (−0.52%)"},{"t":"2026-07-20T10:00Z","p":634.2,"label":"728.96"}]},"mark":{"type":"text","align":"left","baseline":"middle","font":"Inter","fontSize":17,"color":"#d0605a"},"encoding":{"text":{"field":"label"}}},
{"data":{"values":[{"t":"2026-07-03T03:19Z","p":623.9,"label":"Crypto"}]},"mark":{"type":"text","align":"left","baseline":"middle","font":"Lato","fontWeight":"bold","fontSize":20,"color":"#c9a24a"},"encoding":{"text":{"field":"label"}}},
{"data":{"values":[{"t":"2026-07-05T03:43Z","p":623.9,"label":"Patel"}]},"mark":{"type":"text","align":"left","baseline":"middle","font":"Lato","fontWeight":"bold","fontSize":20,"color":"#9c9c94"},"encoding":{"text":{"field":"label"}}},
{"data":{"values":[{"t":"2026-07-04T21:29Z","p":627.7}]},"mark":{"type":"point","filled":false,"opacity":1,"stroke":"#c9a24a","strokeWidth":5,"size":2116,"shape":"M0.55,-0.83 A1,1 0 1,0 0.55,0.83"}},
{"data":{"values":[{"t":"2026-07-04T21:29Z","p":627.7}]},"mark":{"type":"point","filled":false,"opacity":1,"stroke":"#a0a09a","strokeWidth":5,"size":2116,"shape":"M-0.4,0.65 L-0.4,-0.25 A0.55,0.5 0 1,1 0.2,0.3"}},
{"data":{"values":[{"t":"2026-07-01T07:35Z","p":535.6}]},"mark":{"type":"point","filled":true,"opacity":1,"color":"#e2e2e2","size":1849,"shape":"M-1,-0.5 L-0.106,-0.5 L-0.106,0.5 L-0.6,0.5 L-0.6,-0.2 L-1,-0.2 Z M0.53,-0.5 L1,-0.5 L0.6,0.5 L0.08,0.5 Z M-0.02,-0.35 A0.19,0.19 0 1,1 0.36,-0.35 A0.19,0.19 0 1,1 -0.02,-0.35 Z"}},
{"data":{"values":[{"t":"2026-07-02T09:21Z","p":535.6,"label":"TradingView"}]},"mark":{"type":"text","align":"left","baseline":"middle","font":"Inter","fontWeight":600,"fontSize":28,"color":"#e2e2e2"},"encoding":{"text":{"field":"label"}}},
{"data":{"values":[{"t":"2026-08-28T05:30Z","p":534.1}]},"mark":{"type":"point","filled":true,"opacity":1,"color":"#d8d8d8","size":784,"shape":"M0,-0.22 L0.22,0 L0,0.22 L-0.22,0 Z M-1,0 L-0.78,-0.22 L-0.56,0 L-0.78,0.22 Z M1,0 L0.78,-0.22 L0.56,0 L0.78,0.22 Z M0,-1 L0.5,-0.5 L0.28,-0.28 L0,-0.56 L-0.28,-0.28 L-0.5,-0.5 Z M0,1 L0.5,0.5 L0.28,0.28 L0,0.56 L-0.28,0.28 L-0.5,0.5 Z"}},
{"data":{"values":[{"t":"2026-08-28T20:38Z","p":534.1,"label":"@ waqaskhanBNB"}]},"mark":{"type":"text","align":"left","baseline":"middle","font":"Open Sans","fontSize":23,"color":"#cfcfcf"},"encoding":{"text":{"field":"label"}}}
]}
